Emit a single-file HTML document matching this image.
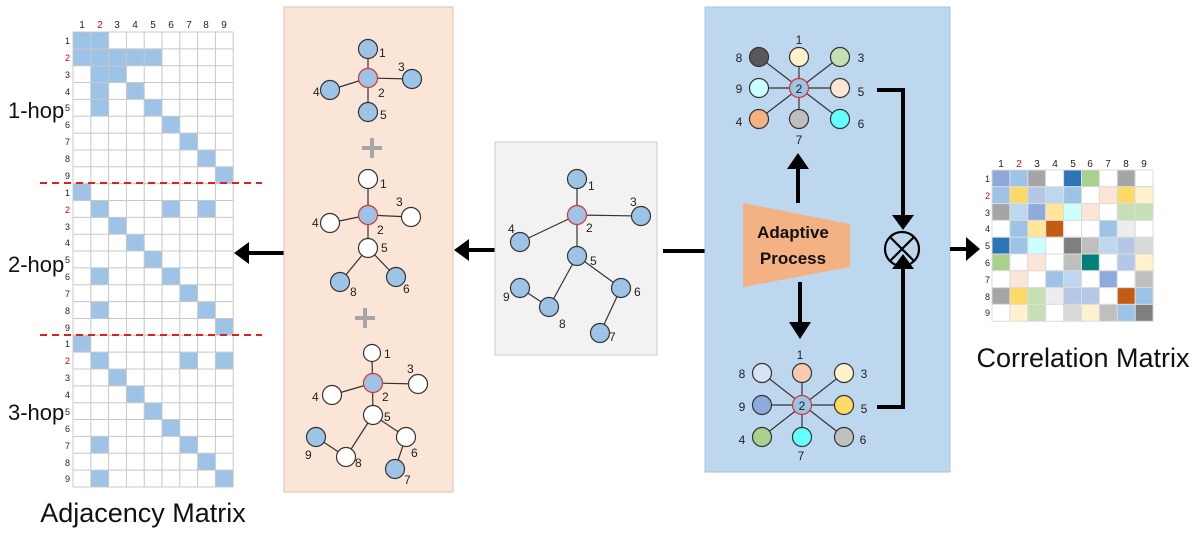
<!DOCTYPE html>
<html><head><meta charset="utf-8"><style>
html,body{margin:0;padding:0;background:#fff;}
svg{display:block;font-family:"Liberation Sans",sans-serif;}
</style></head><body>
<svg width="1200" height="533" viewBox="0 0 1200 533" xmlns="http://www.w3.org/2000/svg">
<!-- Adjacency matrix -->
<g transform="translate(73,32) scale(17.8,16.85)">
<rect x="0" y="0" width="9" height="27" fill="#fff"/>
<g fill="#9dc3e6">
<rect x="0" y="0" width="1" height="1"/><rect x="1" y="0" width="1" height="1"/>
<rect x="0" y="1" width="5" height="1"/>
<rect x="1" y="2" width="2" height="1"/>
<rect x="1" y="3" width="1" height="1"/><rect x="3" y="3" width="1" height="1"/>
<rect x="1" y="4" width="1" height="1"/><rect x="4" y="4" width="1" height="1"/>
<rect x="5" y="5" width="1" height="1"/><rect x="6" y="6" width="1" height="1"/>
<rect x="7" y="7" width="1" height="1"/><rect x="8" y="8" width="1" height="1"/>
<rect x="0" y="9" width="1" height="1"/>
<rect x="1" y="10" width="1" height="1"/><rect x="5" y="10" width="1" height="1"/><rect x="7" y="10" width="1" height="1"/>
<rect x="2" y="11" width="1" height="1"/><rect x="3" y="12" width="1" height="1"/><rect x="4" y="13" width="1" height="1"/>
<rect x="1" y="14" width="1" height="1"/><rect x="5" y="14" width="1" height="1"/>
<rect x="6" y="15" width="1" height="1"/>
<rect x="1" y="16" width="1" height="1"/><rect x="7" y="16" width="1" height="1"/>
<rect x="8" y="17" width="1" height="1"/>
<rect x="0" y="18" width="1" height="1"/>
<rect x="1" y="19" width="1" height="1"/><rect x="6" y="19" width="1" height="1"/><rect x="8" y="19" width="1" height="1"/>
<rect x="2" y="20" width="1" height="1"/><rect x="3" y="21" width="1" height="1"/><rect x="4" y="22" width="1" height="1"/>
<rect x="5" y="23" width="1" height="1"/>
<rect x="1" y="24" width="1" height="1"/><rect x="6" y="24" width="1" height="1"/>
<rect x="7" y="25" width="1" height="1"/>
<rect x="1" y="26" width="1" height="1"/><rect x="8" y="26" width="1" height="1"/>
</g>
<g stroke="#c8c8c8" stroke-width="1" fill="none">
<path vector-effect="non-scaling-stroke" d="M0 0V27M1 0V27M2 0V27M3 0V27M4 0V27M5 0V27M6 0V27M7 0V27M8 0V27M9 0V27
M0 0H9M0 1H9M0 2H9M0 3H9M0 4H9M0 5H9M0 6H9M0 7H9M0 8H9M0 9H9M0 10H9M0 11H9M0 12H9M0 13H9M0 14H9M0 15H9M0 16H9M0 17H9M0 18H9M0 19H9M0 20H9M0 21H9M0 22H9M0 23H9M0 24H9M0 25H9M0 26H9M0 27H9"/>
</g>
</g>
<g font-size="10" fill="#222" text-anchor="middle">
<text x="82" y="28">1</text><text x="100" y="28" fill="#e00000">2</text><text x="117" y="28">3</text><text x="135" y="28">4</text><text x="153" y="28">5</text><text x="171" y="28">6</text><text x="189" y="28">7</text><text x="206" y="28">8</text><text x="224" y="28">9</text>
</g>
<g font-size="9" fill="#222" text-anchor="end">
<text x="70" y="44">1</text><text x="70" y="61" fill="#e00000">2</text><text x="70" y="78">3</text><text x="70" y="95">4</text><text x="70" y="111">5</text><text x="70" y="128">6</text><text x="70" y="145">7</text><text x="70" y="162">8</text><text x="70" y="179">9</text>
<text x="70" y="196">1</text><text x="70" y="213" fill="#e00000">2</text><text x="70" y="230">3</text><text x="70" y="246">4</text><text x="70" y="263">5</text><text x="70" y="280">6</text><text x="70" y="297">7</text><text x="70" y="314">8</text><text x="70" y="331">9</text>
<text x="70" y="347">1</text><text x="70" y="364" fill="#e00000">2</text><text x="70" y="381">3</text><text x="70" y="398">4</text><text x="70" y="415">5</text><text x="70" y="432">6</text><text x="70" y="449">7</text><text x="70" y="466">8</text><text x="70" y="482">9</text>
</g>
<g stroke="#e02020" stroke-width="2" stroke-dasharray="7,5">
<line x1="40" y1="183" x2="262" y2="183"/><line x1="40" y1="335" x2="262" y2="335"/>
</g>
<g font-size="22" fill="#111">
<text x="8" y="118">1-hop</text><text x="8" y="272">2-hop</text><text x="8" y="420">3-hop</text>
</g>
<text x="143" y="522" font-size="27" fill="#111" text-anchor="middle">Adjacency Matrix</text>

<!-- arrows left -->
<g fill="#000">
<line x1="284" y1="253" x2="248" y2="253" stroke="#000" stroke-width="4"/>
<polygon points="234,253 249,242 249,264"/>
<line x1="495" y1="250" x2="468" y2="250" stroke="#000" stroke-width="4"/>
<polygon points="454,250 469,239 469,261"/>
<line x1="663" y1="251" x2="725" y2="251" stroke="#000" stroke-width="4"/>
<polygon points="741,251 725,240 725,262"/>
</g>

<!-- peach panel -->
<rect x="284" y="7" width="169" height="485" fill="#fbe5d6" stroke="#d9c3b4" stroke-width="1"/>
<g stroke="#333" stroke-width="1.2">
<line x1="368" y1="49" x2="368" y2="112"/><line x1="368" y1="78" x2="412" y2="79"/><line x1="368" y1="78" x2="330" y2="90"/>
<line x1="368" y1="179" x2="368" y2="248"/><line x1="368" y1="215" x2="411" y2="217"/><line x1="368" y1="215" x2="330" y2="223"/>
<line x1="368" y1="248" x2="340" y2="282"/><line x1="368" y1="248" x2="396" y2="277"/>
<line x1="372" y1="353" x2="373" y2="415"/><line x1="373" y1="383" x2="418" y2="384"/><line x1="373" y1="383" x2="332" y2="395"/>
<line x1="373" y1="415" x2="346" y2="457"/><line x1="373" y1="415" x2="406" y2="437"/><line x1="346" y1="457" x2="316" y2="437"/><line x1="406" y1="437" x2="395" y2="469"/>
</g>
<g stroke="#333" stroke-width="1.2">
<circle cx="368" cy="49" r="9.5" fill="#9dc3e6"/><circle cx="412" cy="79" r="9.5" fill="#9dc3e6"/><circle cx="330" cy="90" r="9.5" fill="#9dc3e6"/><circle cx="368" cy="112" r="9.5" fill="#9dc3e6"/>
<circle cx="368" cy="179" r="9.5" fill="#fff"/><circle cx="411" cy="217" r="9.5" fill="#fff"/><circle cx="330" cy="223" r="9.5" fill="#fff"/><circle cx="368" cy="248" r="9.5" fill="#fff"/><circle cx="340" cy="282" r="9.5" fill="#9dc3e6"/><circle cx="396" cy="277" r="9.5" fill="#9dc3e6"/>
<circle cx="372" cy="353" r="8.5" fill="#fff"/><circle cx="418" cy="384" r="9.5" fill="#fff"/><circle cx="332" cy="395" r="9.5" fill="#fff"/><circle cx="373" cy="415" r="9.5" fill="#fff"/><circle cx="406" cy="437" r="9.5" fill="#fff"/><circle cx="395" cy="469" r="9.5" fill="#9dc3e6"/><circle cx="346" cy="457" r="9.5" fill="#fff"/><circle cx="316" cy="437" r="9.5" fill="#9dc3e6"/>
</g>
<g fill="#9dc3e6" stroke="#e03030" stroke-width="1.2">
<circle cx="368" cy="78" r="9.5"/><circle cx="368" cy="215" r="9.5"/><circle cx="373" cy="383" r="9.5"/>
</g>
<g font-size="12" fill="#222">
<text x="379" y="57">1</text><text x="398" y="71">3</text><text x="313" y="96">4</text><text x="378" y="97">2</text><text x="380" y="119">5</text>
<text x="380" y="188">1</text><text x="396" y="206">3</text><text x="312" y="227">4</text><text x="377" y="234">2</text><text x="381" y="252">5</text><text x="350" y="296">8</text><text x="403" y="293">6</text>
<text x="384" y="358">1</text><text x="407" y="373">3</text><text x="312" y="401">4</text><text x="382" y="401">2</text><text x="384" y="421">5</text><text x="411" y="457">6</text><text x="404" y="484">7</text><text x="355" y="467">8</text><text x="305" y="459">9</text>
</g>
<g stroke="#a6a6a6" stroke-width="4">
<line x1="362" y1="148" x2="382" y2="148"/><line x1="372" y1="138" x2="372" y2="158"/>
<line x1="355" y1="318" x2="375" y2="318"/><line x1="365" y1="308" x2="365" y2="328"/>
</g>

<!-- center box -->
<rect x="495" y="142" width="162" height="213" fill="#f2f2f2" stroke="#cccccc" stroke-width="1"/>
<g stroke="#333" stroke-width="1.2">
<line x1="577" y1="179" x2="577" y2="256"/><line x1="577" y1="215" x2="641" y2="216"/><line x1="577" y1="215" x2="520" y2="242"/>
<line x1="577" y1="256" x2="549" y2="307"/><line x1="577" y1="256" x2="621" y2="288"/><line x1="621" y1="288" x2="600" y2="333"/><line x1="549" y1="307" x2="520" y2="288"/>
</g>
<g fill="#9dc3e6" stroke="#333" stroke-width="1.2">
<circle cx="577" cy="179" r="9.5"/><circle cx="641" cy="216" r="9.5"/><circle cx="520" cy="242" r="9.5"/><circle cx="577" cy="256" r="9.5"/><circle cx="621" cy="288" r="9.5"/><circle cx="600" cy="333" r="9.5"/><circle cx="549" cy="307" r="9.5"/><circle cx="520" cy="288" r="9.5"/>
<circle cx="577" cy="215" r="9.5" stroke="#e03030"/>
</g>
<g font-size="12" fill="#222">
<text x="588" y="190">1</text><text x="630" y="206">3</text><text x="508" y="233">4</text><text x="586" y="232">2</text><text x="590" y="265">5</text><text x="634" y="296">6</text><text x="609" y="341">7</text><text x="559" y="328">8</text><text x="503" y="301">9</text>
</g>

<!-- blue panel -->
<rect x="705" y="7" width="245" height="465" fill="#bdd7ee" stroke="#a9c4dc" stroke-width="1"/>
<g stroke="#333" stroke-width="1.2">
<line x1="759" y1="57" x2="840" y2="119"/><line x1="840" y1="57" x2="759" y2="119"/><line x1="799" y1="57" x2="799" y2="119"/><line x1="759" y1="88" x2="840" y2="88"/>
<line x1="762" y1="373" x2="844" y2="437"/><line x1="844" y1="373" x2="762" y2="437"/><line x1="802" y1="373" x2="802" y2="437"/><line x1="762" y1="405" x2="844" y2="405"/>
</g>
<g stroke="#333" stroke-width="1.2">
<circle cx="759" cy="57" r="9.5" fill="#595959"/><circle cx="799" cy="57" r="9.5" fill="#fff2cc"/><circle cx="840" cy="57" r="9.5" fill="#c5e0b4"/>
<circle cx="759" cy="88" r="9.5" fill="#ccffff"/><circle cx="840" cy="88" r="9.5" fill="#fbe5d6"/>
<circle cx="759" cy="119" r="9.5" fill="#f4b183"/><circle cx="799" cy="119" r="9.5" fill="#bfbfbf"/><circle cx="840" cy="119" r="9.5" fill="#66ffff"/>
<circle cx="762" cy="373" r="9.5" fill="#dae3f3"/><circle cx="802" cy="373" r="9.5" fill="#f8cbad"/><circle cx="844" cy="373" r="9.5" fill="#fff2cc"/>
<circle cx="762" cy="405" r="9.5" fill="#8faadc"/><circle cx="844" cy="405" r="9.5" fill="#ffd966"/>
<circle cx="762" cy="437" r="9.5" fill="#a9d18e"/><circle cx="802" cy="437" r="9.5" fill="#66ffff"/><circle cx="844" cy="437" r="9.5" fill="#bfbfbf"/>
</g>
<g fill="#9dc3e6" stroke="#e03030" stroke-width="1.2"><circle cx="799" cy="88" r="9.5"/><circle cx="802" cy="405" r="9.5"/></g>
<g font-size="12" fill="#222" text-anchor="middle">
<text x="799" y="93">2</text><text x="802" y="410">2</text>
<text x="739" y="62">8</text><text x="799" y="44">1</text><text x="861" y="62">3</text><text x="739" y="93">9</text><text x="861" y="96">5</text><text x="739" y="126">4</text><text x="799" y="144">7</text><text x="861" y="128">6</text>
<text x="742" y="378">8</text><text x="800" y="359">1</text><text x="864" y="378">3</text><text x="742" y="411">9</text><text x="864" y="413">5</text><text x="742" y="444">4</text><text x="863" y="444">6</text><text x="801" y="460">7</text>
</g>
<polygon points="743,203 850,224 850,267 743,287" fill="#f4b183"/>
<g font-size="17" font-weight="bold" fill="#111" text-anchor="middle">
<text x="793" y="238">Adaptive</text><text x="793" y="264">Process</text>
</g>
<g fill="#000">
<line x1="798" y1="203" x2="798" y2="168" stroke="#000" stroke-width="4"/>
<polygon points="798,153 787,169 809,169"/>
<line x1="800" y1="282" x2="800" y2="323" stroke="#000" stroke-width="4"/>
<polygon points="800,339 789,322 811,322"/>
<polyline points="877,90 903,90 903,216" fill="none" stroke="#000" stroke-width="4"/>
<polygon points="903,230 892,215 914,215"/>
<polyline points="877,407 903,407 903,268" fill="none" stroke="#000" stroke-width="4"/>
<polygon points="903,254 892,269 914,269"/>
<line x1="950" y1="249" x2="968" y2="249" stroke="#000" stroke-width="4"/>
<polygon points="980,249 966,237 966,261"/>
</g>
<g stroke="#000" stroke-width="2.2" fill="none">
<circle cx="902" cy="249" r="17"/>
<line x1="890" y1="237" x2="914" y2="261"/><line x1="914" y1="237" x2="890" y2="261"/>
</g>

<!-- correlation matrix -->
<g transform="translate(992,170) scale(17.9,16.8)">
<g stroke="#dcdcdc" stroke-width="1">
<rect vector-effect="non-scaling-stroke" x="0" y="0" width="1" height="1" fill="#8fa8d8"/><rect vector-effect="non-scaling-stroke" x="1" y="0" width="1" height="1" fill="#9dc3e6"/><rect vector-effect="non-scaling-stroke" x="2" y="0" width="1" height="1" fill="#a5a5a5"/><rect vector-effect="non-scaling-stroke" x="3" y="0" width="1" height="1" fill="#fff"/><rect vector-effect="non-scaling-stroke" x="4" y="0" width="1" height="1" fill="#2e75b6"/><rect vector-effect="non-scaling-stroke" x="5" y="0" width="1" height="1" fill="#a9d18e"/><rect vector-effect="non-scaling-stroke" x="6" y="0" width="1" height="1" fill="#fff"/><rect vector-effect="non-scaling-stroke" x="7" y="0" width="1" height="1" fill="#a5a5a5"/><rect vector-effect="non-scaling-stroke" x="8" y="0" width="1" height="1" fill="#fff"/>
<rect vector-effect="non-scaling-stroke" x="0" y="1" width="1" height="1" fill="#9dc3e6"/><rect vector-effect="non-scaling-stroke" x="1" y="1" width="1" height="1" fill="#ffd966"/><rect vector-effect="non-scaling-stroke" x="2" y="1" width="1" height="1" fill="#b4c7e7"/><rect vector-effect="non-scaling-stroke" x="3" y="1" width="1" height="1" fill="#bdd7ee"/><rect vector-effect="non-scaling-stroke" x="4" y="1" width="1" height="1" fill="#9dc3e6"/><rect vector-effect="non-scaling-stroke" x="5" y="1" width="1" height="1" fill="#fff"/><rect vector-effect="non-scaling-stroke" x="6" y="1" width="1" height="1" fill="#fbe5d6"/><rect vector-effect="non-scaling-stroke" x="7" y="1" width="1" height="1" fill="#ffd966"/><rect vector-effect="non-scaling-stroke" x="8" y="1" width="1" height="1" fill="#fff2cc"/>
<rect vector-effect="non-scaling-stroke" x="0" y="2" width="1" height="1" fill="#a5a5a5"/><rect vector-effect="non-scaling-stroke" x="1" y="2" width="1" height="1" fill="#bdd7ee"/><rect vector-effect="non-scaling-stroke" x="2" y="2" width="1" height="1" fill="#8faadc"/><rect vector-effect="non-scaling-stroke" x="3" y="2" width="1" height="1" fill="#ffe699"/><rect vector-effect="non-scaling-stroke" x="4" y="2" width="1" height="1" fill="#ccffff"/><rect vector-effect="non-scaling-stroke" x="5" y="2" width="1" height="1" fill="#fbe5d6"/><rect vector-effect="non-scaling-stroke" x="6" y="2" width="1" height="1" fill="#fff"/><rect vector-effect="non-scaling-stroke" x="7" y="2" width="1" height="1" fill="#c5e0b4"/><rect vector-effect="non-scaling-stroke" x="8" y="2" width="1" height="1" fill="#c5e0b4"/>
<rect vector-effect="non-scaling-stroke" x="0" y="3" width="1" height="1" fill="#fff"/><rect vector-effect="non-scaling-stroke" x="1" y="3" width="1" height="1" fill="#9dc3e6"/><rect vector-effect="non-scaling-stroke" x="2" y="3" width="1" height="1" fill="#ffe699"/><rect vector-effect="non-scaling-stroke" x="3" y="3" width="1" height="1" fill="#c55a11"/><rect vector-effect="non-scaling-stroke" x="4" y="3" width="1" height="1" fill="#fff"/><rect vector-effect="non-scaling-stroke" x="5" y="3" width="1" height="1" fill="#fff"/><rect vector-effect="non-scaling-stroke" x="6" y="3" width="1" height="1" fill="#9dc3e6"/><rect vector-effect="non-scaling-stroke" x="7" y="3" width="1" height="1" fill="#ededed"/><rect vector-effect="non-scaling-stroke" x="8" y="3" width="1" height="1" fill="#fff"/>
<rect vector-effect="non-scaling-stroke" x="0" y="4" width="1" height="1" fill="#2e75b6"/><rect vector-effect="non-scaling-stroke" x="1" y="4" width="1" height="1" fill="#9dc3e6"/><rect vector-effect="non-scaling-stroke" x="2" y="4" width="1" height="1" fill="#ccffff"/><rect vector-effect="non-scaling-stroke" x="3" y="4" width="1" height="1" fill="#fff"/><rect vector-effect="non-scaling-stroke" x="4" y="4" width="1" height="1" fill="#7f7f7f"/><rect vector-effect="non-scaling-stroke" x="5" y="4" width="1" height="1" fill="#bfbfbf"/><rect vector-effect="non-scaling-stroke" x="6" y="4" width="1" height="1" fill="#bdd7ee"/><rect vector-effect="non-scaling-stroke" x="7" y="4" width="1" height="1" fill="#b4c7e7"/><rect vector-effect="non-scaling-stroke" x="8" y="4" width="1" height="1" fill="#d9d9d9"/>
<rect vector-effect="non-scaling-stroke" x="0" y="5" width="1" height="1" fill="#a9d18e"/><rect vector-effect="non-scaling-stroke" x="1" y="5" width="1" height="1" fill="#fff"/><rect vector-effect="non-scaling-stroke" x="2" y="5" width="1" height="1" fill="#fbe5d6"/><rect vector-effect="non-scaling-stroke" x="3" y="5" width="1" height="1" fill="#fff"/><rect vector-effect="non-scaling-stroke" x="4" y="5" width="1" height="1" fill="#bfbfbf"/><rect vector-effect="non-scaling-stroke" x="5" y="5" width="1" height="1" fill="#00807a"/><rect vector-effect="non-scaling-stroke" x="6" y="5" width="1" height="1" fill="#fff"/><rect vector-effect="non-scaling-stroke" x="7" y="5" width="1" height="1" fill="#b4c7e7"/><rect vector-effect="non-scaling-stroke" x="8" y="5" width="1" height="1" fill="#fff2cc"/>
<rect vector-effect="non-scaling-stroke" x="0" y="6" width="1" height="1" fill="#fff"/><rect vector-effect="non-scaling-stroke" x="1" y="6" width="1" height="1" fill="#fbe5d6"/><rect vector-effect="non-scaling-stroke" x="2" y="6" width="1" height="1" fill="#fff"/><rect vector-effect="non-scaling-stroke" x="3" y="6" width="1" height="1" fill="#9dc3e6"/><rect vector-effect="non-scaling-stroke" x="4" y="6" width="1" height="1" fill="#bdd7ee"/><rect vector-effect="non-scaling-stroke" x="5" y="6" width="1" height="1" fill="#fff"/><rect vector-effect="non-scaling-stroke" x="6" y="6" width="1" height="1" fill="#8faadc"/><rect vector-effect="non-scaling-stroke" x="7" y="6" width="1" height="1" fill="#fff"/><rect vector-effect="non-scaling-stroke" x="8" y="6" width="1" height="1" fill="#bfbfbf"/>
<rect vector-effect="non-scaling-stroke" x="0" y="7" width="1" height="1" fill="#a5a5a5"/><rect vector-effect="non-scaling-stroke" x="1" y="7" width="1" height="1" fill="#ffd966"/><rect vector-effect="non-scaling-stroke" x="2" y="7" width="1" height="1" fill="#c5e0b4"/><rect vector-effect="non-scaling-stroke" x="3" y="7" width="1" height="1" fill="#ededed"/><rect vector-effect="non-scaling-stroke" x="4" y="7" width="1" height="1" fill="#b4c7e7"/><rect vector-effect="non-scaling-stroke" x="5" y="7" width="1" height="1" fill="#b4c7e7"/><rect vector-effect="non-scaling-stroke" x="6" y="7" width="1" height="1" fill="#fff"/><rect vector-effect="non-scaling-stroke" x="7" y="7" width="1" height="1" fill="#c55a11"/><rect vector-effect="non-scaling-stroke" x="8" y="7" width="1" height="1" fill="#9dc3e6"/>
<rect vector-effect="non-scaling-stroke" x="0" y="8" width="1" height="1" fill="#fff"/><rect vector-effect="non-scaling-stroke" x="1" y="8" width="1" height="1" fill="#fff2cc"/><rect vector-effect="non-scaling-stroke" x="2" y="8" width="1" height="1" fill="#c5e0b4"/><rect vector-effect="non-scaling-stroke" x="3" y="8" width="1" height="1" fill="#fff"/><rect vector-effect="non-scaling-stroke" x="4" y="8" width="1" height="1" fill="#d9d9d9"/><rect vector-effect="non-scaling-stroke" x="5" y="8" width="1" height="1" fill="#fff2cc"/><rect vector-effect="non-scaling-stroke" x="6" y="8" width="1" height="1" fill="#bfbfbf"/><rect vector-effect="non-scaling-stroke" x="7" y="8" width="1" height="1" fill="#9dc3e6"/><rect vector-effect="non-scaling-stroke" x="8" y="8" width="1" height="1" fill="#7f7f7f"/>
</g>
</g>
<g font-size="10" fill="#222" text-anchor="middle">
<text x="1001" y="167">1</text><text x="1019" y="167" fill="#e00000">2</text><text x="1037" y="167">3</text><text x="1055" y="167">4</text><text x="1073" y="167">5</text><text x="1090" y="167">6</text><text x="1108" y="167">7</text><text x="1126" y="167">8</text><text x="1144" y="167">9</text>
</g>
<g font-size="9" fill="#222" text-anchor="end">
<text x="990" y="182">1</text><text x="990" y="199" fill="#e00000">2</text><text x="990" y="216">3</text><text x="990" y="232">4</text><text x="990" y="249">5</text><text x="990" y="266">6</text><text x="990" y="283">7</text><text x="990" y="300">8</text><text x="990" y="316">9</text>
</g>
<text x="1083" y="367" font-size="27" fill="#111" text-anchor="middle">Correlation Matrix</text>
</svg>
</body></html>
